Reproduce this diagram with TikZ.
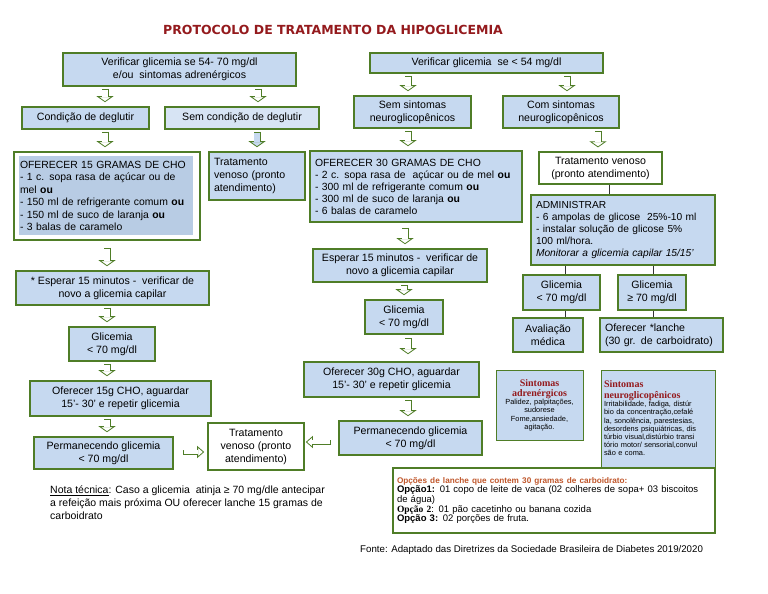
\documentclass[tikz,border=0pt]{standalone}
\usepackage{fontspec}
\setmainfont{Liberation Sans}
\newfontfamily\titulofonte{DejaVu Sans}
\newfontfamily\serifafonte{Liberation Serif}
\usetikzlibrary{arrows.meta}

\definecolor{caixaazul}{HTML}{C6D9F0}
\definecolor{azulinterno}{HTML}{B8CCE4}
\definecolor{verdeborda}{HTML}{4F7D27}
\definecolor{vermelhotit}{HTML}{941A1D}
\definecolor{laranjatit}{HTML}{C0562A}

\newcommand\cabecalho{\color{vermelhotit}\serifafonte\bfseries\fontsize{10}{10.5}\selectfont}

\tikzset{
  caixa/.style={draw=verdeborda, line width=1.6pt, fill=caixaazul, align=center,
    inner sep=2pt, font=\fontsize{10.6}{13}\selectfont},
  caixabranca/.style={caixa, fill=white},
  sintoma/.style={draw=verdeborda, line width=1pt, fill=caixaazul, inner sep=3pt,
    font=\fontsize{7.4}{8.2}\selectfont},
  setag/.style 2 args={draw=verdeborda, line width=7pt, shorten <=#1, shorten >=#2,
    -{Triangle[open, length=6pt, width=17pt, line width=0.8pt]},
    postaction={draw=white, line width=5.4pt, -, shorten <=#1+0.8pt, shorten >=#2+5pt}},
  seta/.style={setag={2pt}{4pt}},
  setaazul/.style={draw=verdeborda, line width=7pt, shorten <=2pt, shorten >=4pt,
    -{Triangle[fill=caixaazul, length=6pt, width=17pt, line width=0.8pt]},
    postaction={draw=caixaazul, line width=5.4pt, -, shorten <=2.8pt, shorten >=9pt}},
  setah/.style 2 args={draw=verdeborda, line width=5pt, shorten <=#1, shorten >=#2,
    -{Triangle[open, length=7pt, width=12pt, line width=0.8pt]},
    postaction={draw=white, line width=3.4pt, -, shorten <=#1+0.8pt, shorten >=#2+6pt}},
  linha/.style={draw=black!80, line width=0.8pt},
}

\begin{document}
\begin{tikzpicture}[x=1pt, y=-1pt]
    \useasboundingbox (0,0) rectangle (768,594);

    % titulo
    \node[font=\titulofonte\bfseries\fontsize{12.5}{15}\selectfont, text=vermelhotit] (titulo)
        at (333,30) {PROTOCOLO DE TRATAMENTO DA HIPOGLICEMIA};

    % coluna esquerda (54-70 mg/dl)
    \node[caixa, minimum width=233pt, minimum height=33pt] (b1) at (179.5,69.5)
        {Verificar glicemia se 54- 70 mg/dl\\e/ou\ \ sintomas adrenérgicos};
    \node[caixa, minimum width=127pt, minimum height=22pt] (b2) at (85.5,118) {Condição de deglutir};
    \node[caixa, minimum width=154pt, minimum height=22pt, fill=caixaazul!70] (b3) at (242,118)
        {Sem condição de deglutir};
    \node[caixabranca, minimum width=186pt, minimum height=88pt, text width=174pt, align=left,
        font=\fontsize{10.4}{12.4}\selectfont,
        path picture={\fill[azulinterno] ([shift={(5pt,-4pt)}]path picture bounding box.north west)
            rectangle ([shift={(-7pt,5pt)}]path picture bounding box.south east);}] (b4) at (107,196)
        {OFERECER 15 GRAMAS DE CHO\\- 1 c. sopa rasa de açúcar ou de\\mel \textbf{ou}\\
         - 150 ml de refrigerante comum \textbf{ou}\\- 150 ml de suco de laranja \textbf{ou}\\
         - 3 balas de caramelo};
    \node[caixa, minimum width=96pt, minimum height=48pt, text width=86pt, align=left] (b5) at (257,176)
        {Tratamento\\venoso (pronto\\atendimento)};
    \node[caixa, minimum width=193pt, minimum height=34pt] (b6) at (112.5,288)
        {* Esperar 15 minutos -\ \ verificar de\\novo a glicemia capilar};
    \node[caixa, minimum width=86pt, minimum height=34pt] (b7) at (112,344) {Glicemia\\< 70 mg/dl};
    \node[caixa, minimum width=181pt, minimum height=35pt] (b8) at (120.5,398.5)
        {Oferecer 15g CHO, aguardar\\15'- 30' e repetir glicemia};
    \node[caixa, minimum width=139pt, minimum height=32pt] (b9) at (103.5,453)
        {Permanecendo glicemia\\< 70 mg/dl};
    \node[caixabranca, minimum width=96pt, minimum height=47pt] (b10) at (256,446.5)
        {Tratamento\\venoso (pronto\\atendimento)};

    % coluna do meio (< 54 mg/dl)
    \node[caixa, minimum width=233pt, minimum height=20pt] (b11) at (486.5,63)
        {Verificar glicemia\ \ se < 54 mg/dl};
    \node[caixa, minimum width=117pt, minimum height=32pt] (b12) at (412.5,112)
        {Sem sintomas\\neuroglicopênicos};
    \node[caixa, minimum width=116pt, minimum height=32pt] (b13) at (561,112)
        {Com sintomas\\neuroglicopênicos};
    \node[caixa, minimum width=212pt, minimum height=71pt, text width=202pt, align=left,
        font=\fontsize{10.4}{12}\selectfont] (b14) at (416,186.5)
        {OFERECER 30 GRAMAS DE CHO\\- 2 c. sopa rasa de\ \ açúcar ou de mel \textbf{ou}\\
         - 300 ml de refrigerante comum \textbf{ou}\\- 300 ml de suco de laranja \textbf{ou}\\
         - 6 balas de caramelo};
    \node[caixa, minimum width=174pt, minimum height=33pt] (b15) at (400,265.5)
        {Esperar 15 minutos -\ \ verificar de\\novo a glicemia capilar};
    \node[caixa, minimum width=78pt, minimum height=34pt] (b16) at (404,317) {Glicemia\\< 70 mg/dl};
    \node[caixa, minimum width=175pt, minimum height=35pt] (b17) at (391.5,379.5)
        {Oferecer 30g CHO, aguardar\\15'- 30' e repetir glicemia};
    \node[caixa, minimum width=143pt, minimum height=34pt] (b18) at (410.5,438)
        {Permanecendo glicemia\\< 70 mg/dl};

    % coluna direita (tratamento venoso)
    \node[caixabranca, line width=1.2pt, minimum width=123pt, minimum height=32pt] (b19) at (600.5,168)
        {Tratamento venoso\\(pronto atendimento)};
    \node[caixa, minimum width=184pt, minimum height=70pt, text width=174pt, align=left,
        font=\fontsize{10.2}{12}\selectfont] (b20) at (623,230)
        {ADMINISTRAR\\- 6 ampolas de glicose\ \ 25\%-10 ml\\- instalar solução de glicose 5\%\\
         100 ml/hora.\\\textit{Monitorar a glicemia capilar 15/15'}};
    \node[caixa, minimum width=77pt, minimum height=35pt] (b21) at (561.5,292.5) {Glicemia\\< 70 mg/dl};
    \node[caixa, minimum width=68pt, minimum height=35pt] (b22) at (652,292.5) {Glicemia\\≥ 70 mg/dl};
    \node[caixa, minimum width=70pt, minimum height=34pt] (b23) at (548,335) {Avaliação\\médica};
    \node[caixa, minimum width=123pt, minimum height=34pt, text width=113pt, align=left] (b24) at (661.5,335)
        {Oferecer *lanche\\(30 gr. de carboidrato)};

    % sintomas
    \node[sintoma, minimum width=87pt, minimum height=70pt, text width=81pt, align=center] (b25) at (539.5,405)
        {{\cabecalho Sintomas\\adrenérgicos\par}Palidez, palpitações,\\sudorese\\Fome,ansiedade,\\agitação.};
    \node[sintoma, minimum width=114pt, minimum height=97pt, text width=108pt, align=left] (b26) at (658,418.5)
        {{\cabecalho Sintomas\\neuroglicopênicos\par}Irritabilidade, fadiga, distúr\\bio da concentração,cefalé\\
         la, sonolência, parestesias,\\desordens psiquiátricas, dis\\túrbio visual,distúrbio transi\\
         tório motor/ sensorial,convul\\são e coma.};

    % opcoes de lanche
    \node[caixabranca, line width=1.2pt, minimum width=322pt, minimum height=65pt, text width=314pt,
        align=left, font=\fontsize{9.5}{9.6}\selectfont] (b27) at (554,500.5)
        {{\color{laranjatit}\bfseries\fontsize{8.2}{9.6}\selectfont Opções de lanche que contem 30 gramas de carboidrato:}\\
         \textbf{Opção1:} 01 copo de leite de vaca (02 colheres de sopa+ 03 biscoitos\\de água)\\
         {\serifafonte\bfseries Opção 2}: 01 pão cacetinho ou banana cozida\\
         \textbf{Opção 3:} 02 porções de fruta.};

    % notas
    \node[anchor=north west, align=left, inner sep=0pt, font=\fontsize{10.5}{13}\selectfont] (nota) at (50,486)
        {\underline{Nota técnica}: Caso a glicemia\ \ atinja ≥ 70 mg/dle antecipar\\
         a refeição mais próxima OU oferecer lanche 15 gramas de\\carboidrato};
    \node[anchor=west, inner sep=0pt, font=\fontsize{9.7}{11}\selectfont] (fonte) at (360,550)
        {Fonte: Adaptado das Diretrizes da Sociedade Brasileira de Diabetes 2019/2020};

    % setas da coluna esquerda
    \draw[seta] ([xshift=19.5pt]b2.north |- b1.south) -- ([xshift=19.5pt]b2.north);
    \draw[seta] ([xshift=16pt]b3.north |- b1.south) -- ([xshift=16pt]b3.north);
    \draw[seta] ([xshift=-2pt]b4.north |- b2.south) -- ([xshift=-2pt]b4.north);
    \draw[setaazul] (b5.north |- b3.south) -- (b5.north);
    \draw[setag={7pt}{4pt}] (b4.south) -- (b4.south |- b6.north);
    \draw[seta] (b4.south |- b6.south) -- (b4.south |- b7.north);
    \draw[seta] (b4.south |- b7.south) -- (b4.south |- b8.north);
    \draw[seta] (b4.south |- b8.south) -- (b4.south |- b9.north);
    \draw[setah={9pt}{3pt}] ([yshift=1pt]b9.east) -- ([yshift=1pt]b9.east -| b10.west);
    \draw[setah={7pt}{1pt}] ([yshift=-4pt]b18.west) -- ([yshift=-4pt]b18.west -| b10.east);

    % setas da coluna do meio
    \draw[seta] ([xshift=-4.5pt]b12.north |- b11.south) -- ([xshift=-4.5pt]b12.north);
    \draw[seta] ([xshift=6pt]b13.north |- b11.south) -- ([xshift=6pt]b13.north);
    \draw[seta] ([xshift=-8pt]b14.north |- b12.south) -- ([xshift=-8pt]b14.north);
    \draw[seta] ([xshift=-2.5pt]b19.north |- b13.south) -- ([xshift=-2.5pt]b19.north);
    \draw[setag={5pt}{4pt}] ([xshift=5pt]b15.north |- b14.south) -- ([xshift=5pt]b15.north);
    \draw[seta] (b16.north |- b15.south) -- (b16.north);
    \draw[setag={3pt}{7pt}] ([xshift=4pt]b16.south) -- ([xshift=4pt]b16.south |- b17.north);
    \draw[seta] ([xshift=-2.5pt]b18.north |- b17.south) -- ([xshift=-2.5pt]b18.north);

    % linhas da coluna direita
    \draw[linha] ([xshift=8.5pt]b19.south) -- ([xshift=8.5pt]b19.south |- b20.north);
    \draw[linha] ([xshift=4pt]b21.north |- b20.south) -- ([xshift=4pt]b21.north);
    \draw[linha] ([xshift=1pt]b22.north |- b20.south) -- ([xshift=1pt]b22.north);
    \draw[linha] ([xshift=4pt]b21.south) -- ([xshift=4pt]b21.south |- b23.north);
    \draw[linha] ([xshift=1pt]b22.south) -- ([xshift=1pt]b22.south |- b24.north);
\end{tikzpicture}
\end{document}
